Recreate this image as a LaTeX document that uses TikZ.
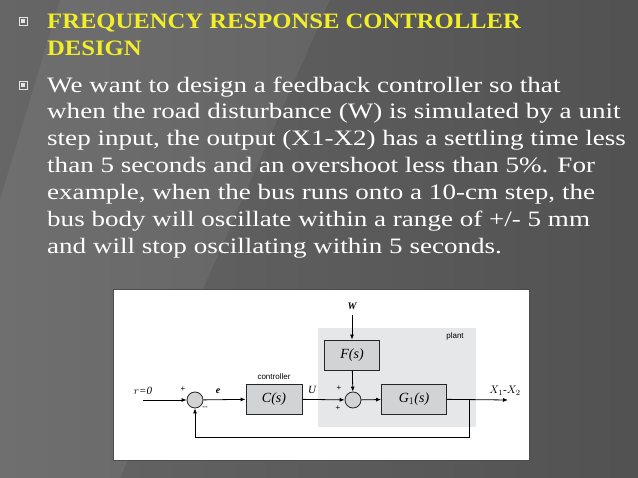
\documentclass[tikz,border=0pt]{standalone}
\usepackage{fontspec}
\setmainfont{Liberation Serif}[FakeStretch=1.23]
\newfontfamily\headf{Liberation Serif}[FakeStretch=1.12]
\newfontfamily\dsf{Liberation Sans}
\newfontfamily\dserif{Liberation Serif}
\usetikzlibrary{arrows.meta}
\definecolor{ttl}{HTML}{F2EE2A}
\definecolor{plantgray}{HTML}{E6E7E9}
\definecolor{boxgray}{HTML}{D2D3D5}
\begin{document}
\begin{tikzpicture}[x=1pt,y=-1pt,
  blk/.style={draw=black!85,fill=boxgray,line width=0.8pt,minimum width=#1,minimum height=30pt,inner sep=0pt},
  sumn/.style={circle,draw=black!85,fill=boxgray,line width=0.8pt,minimum size=16pt,inner sep=0pt},
  sig/.style={line width=0.8pt,-{Latex[length=5pt,width=4pt]}},
  lbl/.style={font=\dserif\itshape\fontsize{11}{11}\selectfont,inner sep=0pt},
  sgn/.style={font=\dsf\fontsize{8}{8}\selectfont,inner sep=0pt},
  body/.style={anchor=base west,text=white,inner sep=0pt,font=\fontsize{22}{22}\selectfont},
  head/.style={anchor=base west,text=ttl,inner sep=0pt,font=\headf\bfseries\fontsize{22}{22}\selectfont},
  bul/.style={draw=black!10,line width=0.7pt,minimum size=8pt,inner sep=0pt,
    path picture={\fill[black!10] ([xshift=-2pt,yshift=-2pt]path picture bounding box.center) rectangle ([xshift=2pt,yshift=2pt]path picture bounding box.center);}}]
\useasboundingbox (0,0) rectangle (638,478);
\shade[left color=black!60,right color=black!68] (0,0) rectangle (638,478);
\fill[white,opacity=0.06] (60,0) -- (330,0) -- (120,478) -- (0,478) -- (0,200) -- cycle;
% bullets
\node[bul] (b1) at (23,21) {};
\node[bul] (b2) at (23,85) {};
% text
\node[head] (t1) at (47,29) {FREQUENCY RESPONSE CONTROLLER};
\node[head] (t2) at (47,56) {DESIGN};
\node[body] (l1) at (47,93) {We want to design a feedback controller so that};
\node[body] (l2) at (47,119) {when the road disturbance (W) is simulated by a unit};
\node[body] (l3) at (47,146) {step input, the output (X1-X2) has a settling time less};
\node[body] (l4) at (47,173) {than 5 seconds and an overshoot less than 5\%. For};
\node[body] (l5) at (47,200) {example, when the bus runs onto a 10-cm step, the};
\node[body] (l6) at (47,227) {bus body will oscillate within a range of +/- 5 mm};
\node[body] (l7) at (47,254) {and will stop oscillating within 5 seconds.};
% panel
\draw[fill=white,draw=black!70,line width=0.8pt] (113,289) rectangle (529,460);
\fill[plantgray] (318,328) rectangle (476,427);
\node[font=\dsf\fontsize{8}{8}\selectfont,inner sep=0pt] (pl) at (455,336) {plant};
\node[font=\dsf\fontsize{8}{8}\selectfont,inner sep=0pt] (ctl) at (274,377) {controller};
% blocks
\node[sumn] (s1) at (195,400) {};
\node[blk=56pt] (C) at (274,399) {\dserif\itshape\fontsize{14}{14}\selectfont C(s)};
\node[sumn] (s2) at (353,400) {};
\node[blk=55pt] (F) at (352,355) {\dserif\itshape\fontsize{14}{14}\selectfont F(s)};
\node[blk=65pt] (G) at (414,399) {\dserif\itshape\fontsize{14}{14}\selectfont G$_1$(s)};
\coordinate (rin) at (143,400);
\coordinate (win) at (352,315);
\coordinate (out) at (508,400);
\coordinate (br) at (469,400);
\coordinate (fb1) at (469,437);
\coordinate (fb2) at (195,437);
% labels
\node[lbl] (r) at (143,391) {$r$=0};
\node[lbl,font=\dserif\bfseries\itshape\fontsize{10}{10}\selectfont] (e) at (218,391) {e};
\node[lbl] (U) at (312,390) {U};
\node[lbl,font=\dserif\bfseries\itshape\fontsize{10}{10}\selectfont] (W) at (352,306) {W};
\node[lbl] (X) at (505,391) {$X_1$-$X_2$};
\node[sgn] at (183,389) {+};
\node[sgn] at (205,408) {--};
\node[sgn] at (339,388) {+};
\node[sgn] at (338,408) {+};
% connectors
\draw[sig] (rin) -- (s1);
\draw[sig] (s1) -- (C);
\draw[sig] (C) -- (s2);
\draw[sig] (win) -- (F);
\draw[sig] (F) -- (s2);
\draw[sig] (s2) -- (G);
\draw[sig] (G) -- (out);
\draw[sig] (br) -- (fb1) -- (fb2) -- (s1);
\end{tikzpicture}
\end{document}
